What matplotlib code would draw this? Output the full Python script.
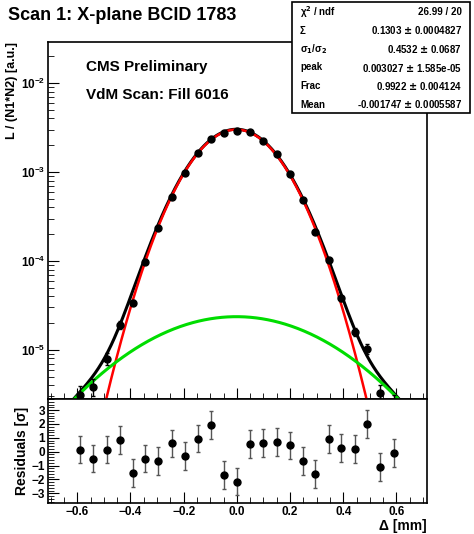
import numpy as np
import matplotlib
matplotlib.use("Agg")
import matplotlib.pyplot as plt
from matplotlib.ticker import MultipleLocator, LogLocator, NullFormatter

plt.rcParams['font.family'] = ['Liberation Sans', 'DejaVu Sans']
plt.rcParams['font.weight'] = 'bold'
plt.rcParams['mathtext.default'] = 'bf'

x = [-0.59, -0.54, -0.49, -0.44, -0.39, -0.345, -0.295, -0.245, -0.195, -0.147, -0.098, -0.05, 0.0,
     0.05, 0.10, 0.15, 0.20, 0.25, 0.295, 0.345, 0.393, 0.443, 0.49, 0.54, 0.59]
logy = [-5.506, -5.413, -5.10, -4.72, -4.47, -4.01, -3.63, -3.28, -3.015, -2.79, -2.63, -2.56, -2.536,
        -2.55, -2.65, -2.80, -3.026, -3.31, -3.67, -3.99, -4.42, -4.80, -4.99, -5.48, -5.62]
relerr = [0.25, 0.22, 0.15, 0.10, 0.06, 0.04, 0.03, 0.02, 0.015, 0.01, 0.01, 0.01, 0.01,
          0.01, 0.01, 0.01, 0.015, 0.02, 0.03, 0.04, 0.06, 0.10, 0.13, 0.22, 0.30]
resid = [0.15, -0.5, 0.15, 0.85, -1.55, -0.5, -0.65, 0.6, -0.3, 0.95, 1.9, -1.7, -2.15,
         0.55, 0.65, 0.7, 0.45, -0.65, -1.6, 0.9, 0.25, 0.2, 2.0, -1.1, -0.1]

# fit parameters (from stats box / curve shapes)
peak = 0.003027
frac = 0.9922
sigma1 = 0.131
sigma2 = 0.295
mean = -0.001747

y = 10 ** np.array(logy)
yerr = y * np.array(relerr)

W, H = 474, 534
fig = plt.figure(figsize=(W/100, H/100), dpi=100)
ax = fig.add_axes([48/W, 1-399/H, (427-48)/W, (399-42)/H])
axr = fig.add_axes([48/W, 1-503/H, (427-48)/W, (503-399)/H], sharex=ax)

xx = np.linspace(-0.72, 0.72, 600)
g1 = peak * frac * np.exp(-(xx-mean)**2 / (2*sigma1**2))
g2 = peak * (1-frac) * np.exp(-(xx-mean)**2 / (2*sigma2**2))
ax.plot(xx, g1, color='#ff0000', lw=1.8, zorder=3)
ax.plot(xx, g2, color='#00dd00', lw=2.2, zorder=3)
ax.plot(xx, g1+g2, color='black', lw=2.2, zorder=2)
ax.errorbar(x, y, yerr=yerr, fmt='o', color='black', ms=5, elinewidth=1, capsize=1.5, zorder=4)
ax.set_yscale('log')
ax.set_ylim(2.8e-6, 0.029)
ax.set_xlim(-0.71, 0.715)
ax.yaxis.set_major_locator(LogLocator(base=10))
ax.yaxis.set_minor_locator(LogLocator(base=10, subs=np.arange(2, 10)))
ax.yaxis.set_minor_formatter(NullFormatter())
ax.tick_params(axis='x', labelbottom=False)
ax.set_ylabel('L / (N1*N2) [a.u.]', fontsize=9, fontweight='bold', loc='top', labelpad=2)
ax.text(0.1, 0.92, 'CMS Preliminary', transform=ax.transAxes, fontsize=11, fontweight='bold')
ax.text(0.1, 0.84, 'VdM Scan: Fill 6016', transform=ax.transAxes, fontsize=11, fontweight='bold')

axr.errorbar(x, resid, yerr=np.ones(len(x)), fmt='o', color='black', ms=5, elinewidth=1,
             ecolor='#555555', capsize=1.5)
axr.set_ylim(-3.7, 3.8)
axr.yaxis.set_major_locator(MultipleLocator(1))
axr.yaxis.set_minor_locator(MultipleLocator(0.2))
axr.xaxis.set_major_locator(MultipleLocator(0.2))
axr.xaxis.set_minor_locator(MultipleLocator(0.05))
axr.set_ylabel('Residuals [σ]', fontsize=10, fontweight='bold', labelpad=2)
fig.text(427/W, 1-526/H, 'Δ [mm]', fontsize=10, fontweight='bold', ha='right', va='center')

for a in (ax, axr):
    a.tick_params(which='both', direction='in', labelsize=8.5, pad=2)
    a.tick_params(which='major', length=8)
    a.tick_params(which='minor', length=4)
    for s in a.spines.values():
        s.set_linewidth(1.2)

fig.text(8/W, 1-16/H, 'Scan 1: X-plane BCID 1783', fontsize=13, fontweight='bold', va='center')

# stats box
bx0, by0, bx1, by1 = 292/W, 1-113/H, 470/W, 1-2/H
fig.patches.append(plt.Rectangle((bx0, by0), bx1-bx0, by1-by0, transform=fig.transFigure,
                                 fc='white', ec='black', lw=1.2, zorder=10))
names = ['χ$^2$ / ndf', 'Σ', 'σ$_1$/σ$_2$', 'peak', 'Frac', 'Mean']
vals = ['26.99 / 20', '0.1303 $\\pm$ 0.0004827', '0.4532 $\\pm$ 0.0687',
        '0.003027 $\\pm$ 1.585e-05', '0.9922 $\\pm$ 0.004124', '-0.001747 $\\pm$ 0.0005587']
for i, (n, v) in enumerate(zip(names, vals)):
    yy = 1 - (12 + i*18.5)/H
    fig.text(bx0 + 8/W, yy, n, fontsize=7, fontweight='bold', va='center', zorder=11)
    fig.text(bx1 - 8/W, yy, v, fontsize=7, fontweight='bold', va='center', ha='right', zorder=11)

fig.savefig('out.png', dpi=100)
